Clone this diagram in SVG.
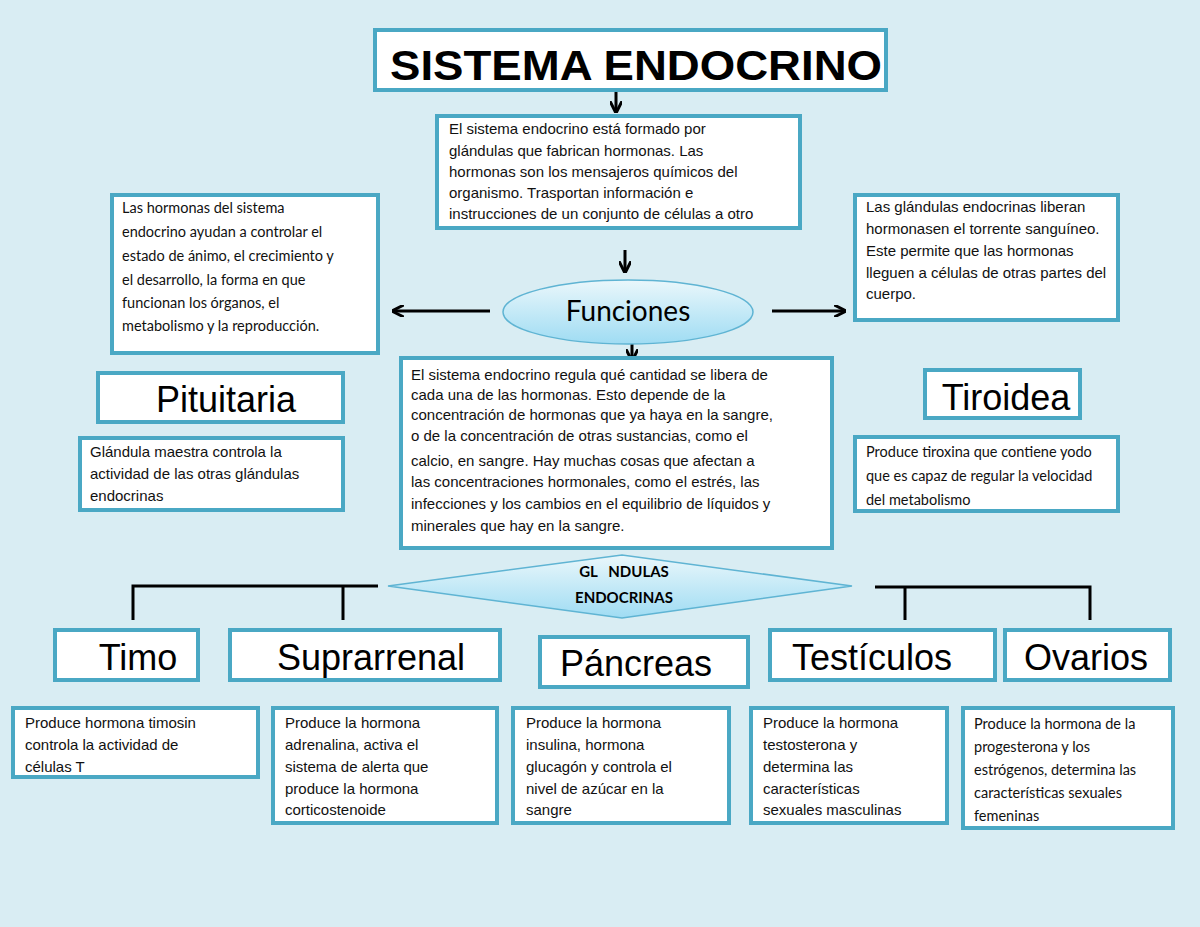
<svg xmlns="http://www.w3.org/2000/svg" width="1200" height="927" viewBox="0 0 1200 927">
<defs>
<style>
.b{fill:#fff;stroke:#4aa8c4;stroke-width:4}
.t{font-family:"Liberation Sans",Arial,sans-serif;font-size:15px;fill:#111}
.c{font-family:Lato,"Open Sans",sans-serif;font-size:14.5px;fill:#111}
.h{font-family:"Liberation Sans",Arial,sans-serif;font-size:36px;fill:#000}
.l{stroke:#000;stroke-width:3;fill:none}
</style>
<marker id="a" viewBox="0 0 10 10" refX="9" refY="5" markerWidth="4" markerHeight="4" orient="auto"><path d="M0,0 L10,5 L0,10" fill="none" stroke="#000" stroke-width="2.5"/></marker>
<linearGradient id="g" x1="0" y1="0" x2="0" y2="1"><stop offset="0" stop-color="#eaf7fb"/><stop offset="1" stop-color="#9fdcf3"/></linearGradient>
</defs>
<rect width="1200" height="927" fill="#d9edf3"/>
<g id="connectors">
<line class="l" x1="616" y1="90" x2="616" y2="112" marker-end="url(#a)"/>
<line class="l" x1="625" y1="250" x2="625" y2="272" marker-end="url(#a)"/>
<line class="l" x1="632" y1="340" x2="632" y2="360" marker-end="url(#a)"/>
<line class="l" stroke-width="4" x1="490" y1="311" x2="393" y2="311" marker-end="url(#a)"/>
<line class="l" stroke-width="4" x1="772" y1="311" x2="845" y2="311" marker-end="url(#a)"/>
<path class="l" d="M133,620 V586 H378 M343,586 V620"/>
<path class="l" d="M875,587 H1090 V620 M905,587 V620"/>
</g>
<g id="title"><rect class="b" x="375" y="30" width="511" height="60"/><text x="390" y="80" textLength="492" lengthAdjust="spacingAndGlyphs" font-family="Liberation Sans,Arial,sans-serif" font-weight="bold" font-size="42">SISTEMA ENDOCRINO</text></g>
<g id="intro"><rect class="b" x="437" y="116" width="363" height="112"/>
<text class="t" x="449" y="134">El sistema endocrino está formado por</text>
<text class="t" x="449" y="156">glándulas que fabrican hormonas. Las</text>
<text class="t" x="449" y="177">hormonas son los mensajeros químicos del</text>
<text class="t" x="449" y="198">organismo. Trasportan información e</text>
<text class="t" x="449" y="219">instrucciones de un conjunto de células a otro</text></g>
<g id="funciones"><ellipse cx="628" cy="312" rx="125" ry="32" fill="url(#g)" stroke="#5fb4d3" stroke-width="1.5"/><text x="628" y="321" text-anchor="middle" font-family="Lato,sans-serif" font-size="28">Funciones</text></g>
<g id="left"><rect class="b" x="112" y="195" width="266" height="158"/>
<text class="c" x="122" y="213">Las hormonas del sistema</text>
<text class="c" x="122" y="237">endocrino ayudan a controlar el</text>
<text class="c" x="122" y="261">estado de ánimo, el crecimiento y</text>
<text class="c" x="122" y="285">el desarrollo, la forma en que</text>
<text class="c" x="122" y="308">funcionan los órganos, el</text>
<text class="c" x="122" y="331">metabolismo y la reproducción.</text></g>
<g id="right"><rect class="b" x="855" y="195" width="263" height="125"/>
<text class="t" x="866" y="212">Las glándulas endocrinas liberan</text>
<text class="t" x="866" y="234">hormonasen el torrente sanguíneo.</text>
<text class="t" x="866" y="256">Este permite que las hormonas</text>
<text class="t" x="866" y="278">lleguen a células de otras partes del</text>
<text class="t" x="866" y="299">cuerpo.</text></g>
<g id="mid"><rect class="b" x="401" y="358" width="431" height="190"/>
<text class="t" x="411" y="380">El sistema endocrino regula qué cantidad se libera de</text>
<text class="t" x="411" y="400">cada una de las hormonas. Esto depende de la</text>
<text class="t" x="411" y="420">concentración de hormonas que ya haya en la sangre,</text>
<text class="t" x="411" y="441">o de la concentración de otras sustancias, como el</text>
<text class="t" x="411" y="466">calcio, en sangre. Hay muchas cosas que afectan a</text>
<text class="t" x="411" y="487">las concentraciones hormonales, como el estrés, las</text>
<text class="t" x="411" y="509">infecciones y los cambios en el equilibrio de líquidos y</text>
<text class="t" x="411" y="531">minerales que hay en la sangre.</text></g>
<g id="pituitaria"><rect class="b" x="98" y="373" width="245" height="49"/><text class="h" x="226" y="412" text-anchor="middle">Pituitaria</text></g>
<g id="pit-desc"><rect class="b" x="80" y="438" width="263" height="72"/>
<text class="t" x="90" y="457">Glándula maestra controla la</text>
<text class="t" x="90" y="479">actividad de las otras glándulas</text>
<text class="t" x="90" y="501">endocrinas</text></g>
<g id="tiroidea"><rect class="b" x="925" y="370" width="155" height="48"/><text class="h" x="1006" y="410" text-anchor="middle">Tiroidea</text></g>
<g id="tir-desc"><rect class="b" x="855" y="437" width="263" height="74"/>
<text class="c" x="866" y="457">Produce tiroxina que contiene yodo</text>
<text class="c" x="866" y="481">que es capaz de regular la velocidad</text>
<text class="c" x="866" y="505">del metabolismo</text></g>
<g id="glandulas"><polygon points="388,586 622,555 852,586 622,618" fill="url(#g)" stroke="#5fb4d3" stroke-width="1.5"/>
<text x="624" y="577" text-anchor="middle" font-family="Lato,sans-serif" font-weight="bold" font-size="15" xml:space="preserve">GL   NDULAS</text>
<text x="624" y="603" text-anchor="middle" font-family="Lato,sans-serif" font-weight="bold" font-size="15">ENDOCRINAS</text></g>
<g id="timo"><rect class="b" x="55" y="630" width="143" height="50"/><text class="h" x="138" y="670" text-anchor="middle">Timo</text></g>
<g id="suprarrenal"><rect class="b" x="230" y="630" width="270" height="50"/><text class="h" x="371" y="670" text-anchor="middle">Suprarrenal</text></g>
<g id="pancreas"><rect class="b" x="540" y="637" width="208" height="50"/><text class="h" x="636" y="676" text-anchor="middle">Páncreas</text></g>
<g id="testiculos"><rect class="b" x="770" y="630" width="225" height="50"/><text class="h" x="872" y="670" text-anchor="middle">Testículos</text></g>
<g id="ovarios"><rect class="b" x="1005" y="630" width="165" height="50"/><text class="h" x="1086" y="670" text-anchor="middle">Ovarios</text></g>
<g id="timo-d"><rect class="b" x="13" y="708" width="245" height="69"/>
<text class="t" x="25" y="728">Produce hormona timosin</text>
<text class="t" x="25" y="750">controla la actividad de</text>
<text class="t" x="25" y="772">células T</text></g>
<g id="supra-d"><rect class="b" x="273" y="708" width="224" height="115"/>
<text class="t" x="285" y="728">Produce la hormona</text>
<text class="t" x="285" y="750">adrenalina, activa el</text>
<text class="t" x="285" y="772">sistema de alerta que</text>
<text class="t" x="285" y="794">produce la hormona</text>
<text class="t" x="285" y="815">corticostenoide</text></g>
<g id="pan-d"><rect class="b" x="513" y="708" width="216" height="115"/>
<text class="t" x="526" y="728">Produce la hormona</text>
<text class="t" x="526" y="750">insulina, hormona</text>
<text class="t" x="526" y="772">glucagón y controla el</text>
<text class="t" x="526" y="794">nivel de azúcar en la</text>
<text class="t" x="526" y="815">sangre</text></g>
<g id="tes-d"><rect class="b" x="751" y="708" width="196" height="115"/>
<text class="t" x="763" y="728">Produce la hormona</text>
<text class="t" x="763" y="750">testosterona y</text>
<text class="t" x="763" y="772">determina las</text>
<text class="t" x="763" y="794">características</text>
<text class="t" x="763" y="815">sexuales masculinas</text></g>
<g id="ova-d"><rect class="b" x="963" y="708" width="210" height="120"/>
<text class="c" x="974" y="729">Produce la hormona de la</text>
<text class="c" x="974" y="752">progesterona y los</text>
<text class="c" x="974" y="775">estrógenos, determina las</text>
<text class="c" x="974" y="798">características sexuales</text>
<text class="c" x="974" y="821">femeninas</text></g>
</svg>
